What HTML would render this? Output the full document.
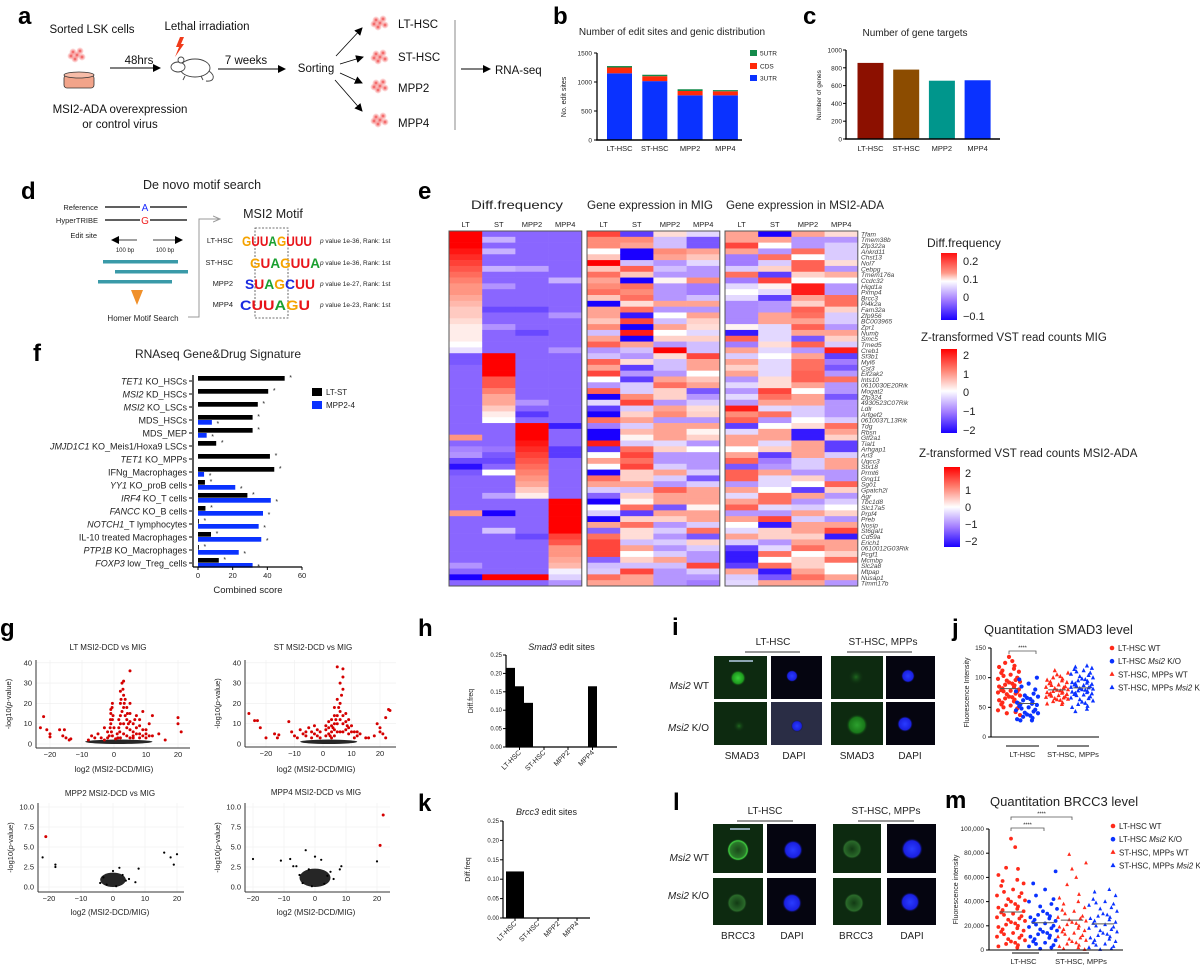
<!DOCTYPE html>
<html><head><meta charset="utf-8">
<style>
html,body{margin:0;padding:0;background:#fff;}
svg{display:block;font-family:"Liberation Sans",Arial,sans-serif;}
</style></head>
<body>
<svg id="fig" xmlns="http://www.w3.org/2000/svg" width="1200" height="967" viewBox="0 0 1200 967">
<defs>
<marker id="ah" markerWidth="8" markerHeight="8" refX="7" refY="4" orient="auto" markerUnits="userSpaceOnUse"><path d="M0,0 L8,4 L0,8 z" fill="#000"/></marker>
<marker id="ahg" markerWidth="8" markerHeight="8" refX="7" refY="4" orient="auto" markerUnits="userSpaceOnUse"><path d="M0,1 L7,4 L0,7" fill="none" stroke="#999"/></marker>
<radialGradient id="gGreen"><stop offset="0" stop-color="#3ad23a"/><stop offset="0.7" stop-color="#1e9a1e"/><stop offset="1" stop-color="#0d2a10" stop-opacity="0"/></radialGradient>
<radialGradient id="gGreenF"><stop offset="0" stop-color="#1f6a1f"/><stop offset="1" stop-color="#0d2a10" stop-opacity="0"/></radialGradient>
<radialGradient id="gRing"><stop offset="0" stop-color="#1a4a1a"/><stop offset="0.7" stop-color="#2a7a2a"/><stop offset="0.85" stop-color="#40d040"/><stop offset="1" stop-color="#0d2a10" stop-opacity="0"/></radialGradient>
<radialGradient id="gRingF"><stop offset="0" stop-color="#123a14"/><stop offset="0.8" stop-color="#2a6a2a"/><stop offset="1" stop-color="#0d2a10" stop-opacity="0"/></radialGradient>
<radialGradient id="gBlue"><stop offset="0" stop-color="#2a3cff"/><stop offset="0.75" stop-color="#1a20e0"/><stop offset="1" stop-color="#050510" stop-opacity="0"/></radialGradient>
<radialGradient id="gCell"><stop offset="0" stop-color="#f03c3c"/><stop offset="1" stop-color="#f8a0a0" stop-opacity="0.2"/></radialGradient>
<linearGradient id="cbDiff" x1="0" y1="0" x2="0" y2="1"><stop offset="0" stop-color="#ff1010"/><stop offset="0.3" stop-color="#ff9a8a"/><stop offset="0.42" stop-color="#ffffff"/><stop offset="0.7" stop-color="#a27cff"/><stop offset="1" stop-color="#1a00ff"/></linearGradient>
<linearGradient id="cbZ" x1="0" y1="0" x2="0" y2="1"><stop offset="0" stop-color="#ff0000"/><stop offset="0.25" stop-color="#ff8070"/><stop offset="0.5" stop-color="#ffffff"/><stop offset="0.75" stop-color="#a27cff"/><stop offset="1" stop-color="#1a00ff"/></linearGradient>
</defs>

<g font-weight="bold" font-size="24" fill="#000">
<text x="18" y="24">a</text>
<text x="553" y="24">b</text>
<text x="803" y="24">c</text>
<text x="21" y="199">d</text>
<text x="418" y="199">e</text>
<text x="33" y="361">f</text>
<text x="0" y="636">g</text>
<text x="418" y="636">h</text>
<text x="672" y="635">i</text>
<text x="952" y="636">j</text>
<text x="418" y="811">k</text>
<text x="673" y="810">l</text>
<text x="945" y="808">m</text>
</g>

<g id="pa" font-size="11.5" fill="#111">
<text x="92" y="33" text-anchor="middle">Sorted LSK cells</text>
<rect x="64" y="75" width="30" height="13" rx="3" fill="#f2a48a" stroke="#333" stroke-width="0.8"/>
<ellipse cx="79" cy="75" rx="15" ry="3" fill="#f7bca8" stroke="#333" stroke-width="0.8"/>
<text x="120" y="113" text-anchor="middle">MSI2-ADA overexpression</text>
<text x="120" y="128" text-anchor="middle">or control virus</text>
<line x1="110" y1="68" x2="160" y2="68" stroke="#000" marker-end="url(#ah)"/>
<text x="139" y="64" text-anchor="middle">48hrs</text>
<text x="207" y="30" text-anchor="middle">Lethal irradiation</text>
<polygon points="180,37 176,47 179,47 175,57 184,44 181,44 184,37" fill="#f03a1a"/>
<g fill="#fff" stroke="#444" stroke-width="0.9">
<ellipse cx="195" cy="68" rx="15" ry="9"/>
<ellipse cx="178" cy="67" rx="7" ry="5"/>
<circle cx="181" cy="60" r="3"/>
<path d="M209,71 C216,76 214,82 206,81" fill="none"/>
<line x1="185" y1="76" x2="183" y2="80"/><line x1="201" y1="76" x2="203" y2="80"/>
</g>
<line x1="218" y1="69" x2="285" y2="69" stroke="#000" marker-end="url(#ah)"/>
<text x="246" y="64" text-anchor="middle">7 weeks</text>
<text x="316" y="72" text-anchor="middle">Sorting</text>
<line x1="336" y1="56" x2="362" y2="28" stroke="#000" stroke-width="0.8" marker-end="url(#ah)"/>
<line x1="340" y1="64" x2="363" y2="57" stroke="#000" stroke-width="0.8" marker-end="url(#ah)"/>
<line x1="340" y1="73" x2="362" y2="83" stroke="#000" stroke-width="0.8" marker-end="url(#ah)"/>
<line x1="335" y1="80" x2="362" y2="111" stroke="#000" stroke-width="0.8" marker-end="url(#ah)"/>
<text x="398" y="28">LT-HSC</text>
<text x="398" y="61">ST-HSC</text>
<text x="398" y="92">MPP2</text>
<text x="398" y="127">MPP4</text>
<line x1="455" y1="20" x2="455" y2="130" stroke="#888"/>
<line x1="461" y1="69" x2="490" y2="69" stroke="#000" marker-end="url(#ah)"/>
<text x="495" y="74">RNA-seq</text>
</g>

<g id="pd" fill="#222">
<text x="202" y="189" text-anchor="middle" font-size="12.5">De novo motif search</text>
<text x="98" y="210" text-anchor="end" font-size="7.5">Reference</text>
<line x1="105" y1="207" x2="140" y2="207" stroke="#000" stroke-width="1.2"/>
<line x1="150" y1="207" x2="187" y2="207" stroke="#000" stroke-width="1.2"/>
<text x="145" y="211" text-anchor="middle" font-size="10" fill="#1a2aff">A</text>
<text x="98" y="223" text-anchor="end" font-size="7.5">HyperTRIBE</text>
<line x1="105" y1="220" x2="140" y2="220" stroke="#000" stroke-width="1.2"/>
<line x1="150" y1="220" x2="187" y2="220" stroke="#000" stroke-width="1.2"/>
<text x="145" y="224" text-anchor="middle" font-size="10" fill="#f02020">G</text>
<text x="97" y="238" text-anchor="end" font-size="7.5">Edit site</text>
<line x1="137" y1="240" x2="112" y2="240" stroke="#000" stroke-width="0.8" marker-end="url(#ah)"/>
<line x1="153" y1="240" x2="182" y2="240" stroke="#000" stroke-width="0.8" marker-end="url(#ah)"/>
<text x="125" y="252" text-anchor="middle" font-size="6">100 bp</text>
<text x="165" y="252" text-anchor="middle" font-size="6">100 bp</text>
<rect x="103" y="260" width="75" height="3.5" fill="#3a9aa8"/>
<rect x="115" y="270" width="73" height="3.5" fill="#3a9aa8"/>
<rect x="98" y="280" width="74" height="3.5" fill="#3a9aa8"/>
<polygon points="131,290 143,290 137,305" fill="#f0902a"/>
<text x="143" y="321" text-anchor="middle" font-size="8">Homer Motif Search</text>
<polyline points="188,317 199,317 199,219 220,219" fill="none" stroke="#999" marker-end="url(#ahg)"/>
<text x="273" y="218" text-anchor="middle" font-size="12.5">MSI2 Motif</text>
<rect x="255" y="228" width="33" height="90" fill="none" stroke="#444" stroke-dasharray="2,1.5" stroke-width="0.8"/>
<text x="233" y="243" text-anchor="end" font-size="7.5">LT-HSC</text>
<text x="233" y="265" text-anchor="end" font-size="7.5">ST-HSC</text>
<text x="233" y="286" text-anchor="end" font-size="7.5">MPP2</text>
<text x="233" y="307" text-anchor="end" font-size="7.5">MPP4</text>
<g font-size="6.5">
<text x="320" y="243"><tspan font-style="italic">p</tspan> value 1e-36, Rank: 1st</text>
<text x="320" y="265"><tspan font-style="italic">p</tspan> value 1e-36, Rank: 1st</text>
<text x="320" y="286"><tspan font-style="italic">p</tspan> value 1e-27, Rank: 1st</text>
<text x="320" y="307"><tspan font-style="italic">p</tspan> value 1e-23, Rank: 1st</text>
</g>
</g>

<g>
<text x="218" y="358" text-anchor="middle" font-size="12" fill="#222">RNAseq Gene&amp;Drug Signature</text>
<text x="248" y="593" text-anchor="middle" font-size="9.5" fill="#222">Combined score</text>
<rect x="312" y="388" width="10" height="8" fill="#000"/>
<text x="326" y="395" font-size="8" fill="#222">LT-ST</text>
<rect x="312" y="401" width="10" height="8" fill="#0a32ff"/>
<text x="326" y="408" font-size="8" fill="#222">MPP2-4</text>
</g>

<g fill="#222">
<text x="927" y="247" font-size="12">Diff.frequency</text>
<rect x="941" y="253" width="16" height="67" fill="url(#cbDiff)"/>
<text x="963" y="265" font-size="11">0.2</text>
<text x="963" y="283" font-size="11">0.1</text>
<text x="963" y="301" font-size="11">0</text>
<text x="963" y="320" font-size="11">−0.1</text>
<text x="921" y="341" font-size="11.5">Z-transformed VST read counts MIG</text>
<rect x="941" y="349" width="16" height="84" fill="url(#cbZ)"/>
<text x="963" y="359" font-size="11">2</text>
<text x="963" y="378" font-size="11">1</text>
<text x="963" y="396" font-size="11">0</text>
<text x="963" y="415" font-size="11">−1</text>
<text x="963" y="434" font-size="11">−2</text>
<text x="919" y="457" font-size="11.5">Z-transformed VST read counts MSI2-ADA</text>
<rect x="944" y="467" width="16" height="80" fill="url(#cbZ)"/>
<text x="965" y="477" font-size="11">2</text>
<text x="965" y="494" font-size="11">1</text>
<text x="965" y="511" font-size="11">0</text>
<text x="965" y="528" font-size="11">−1</text>
<text x="965" y="545" font-size="11">−2</text>
</g>

<g>
<text x="773" y="645" text-anchor="middle" font-size="10" fill="#222">LT-HSC</text>
<line x1="745" y1="652" x2="800" y2="652" stroke="#333"/>
<text x="883" y="645" text-anchor="middle" font-size="10" fill="#222">ST-HSC, MPPs</text>
<line x1="847" y1="652" x2="912" y2="652" stroke="#333"/>
<text x="709" y="689" text-anchor="end" font-size="10" fill="#222"><tspan font-style="italic">Msi2</tspan> WT</text>
<text x="709" y="731" text-anchor="end" font-size="10" fill="#222"><tspan font-style="italic">Msi2</tspan> K/O</text>
<rect x="714" y="656" width="53" height="43" fill="#0d2a10"/>
<circle cx="738" cy="678" r="8" fill="url(#gGreen)"/>
<line x1="729" y1="661" x2="753" y2="661" stroke="#b8d0e8" stroke-width="1.5"/>
<rect x="771" y="656" width="51" height="43" fill="#050510"/>
<circle cx="792" cy="676" r="6" fill="url(#gBlue)"/>
<rect x="714" y="702" width="53" height="43" fill="#0d2a10"/>
<circle cx="739" cy="726" r="6" fill="url(#gGreenF)"/>
<rect x="771" y="702" width="51" height="43" fill="#2a2d45"/>
<circle cx="797" cy="726" r="6" fill="url(#gBlue)"/>
<rect x="831" y="656" width="52" height="43" fill="#0d2a10"/>
<circle cx="856" cy="677" r="8" fill="url(#gGreenF)"/>
<rect x="886" y="656" width="49" height="43" fill="#050510"/>
<circle cx="908" cy="676" r="7" fill="url(#gBlue)"/>
<rect x="831" y="702" width="52" height="43" fill="#0d2a10"/>
<circle cx="857" cy="725" r="11" fill="url(#gGreen)" opacity="0.7"/>
<rect x="886" y="702" width="49" height="43" fill="#050510"/>
<circle cx="905" cy="724" r="8" fill="url(#gBlue)"/>
<text x="742" y="759" text-anchor="middle" font-size="10" fill="#222">SMAD3</text>
<text x="794" y="759" text-anchor="middle" font-size="10" fill="#222">DAPI</text>
<text x="857" y="759" text-anchor="middle" font-size="10" fill="#222">SMAD3</text>
<text x="910" y="759" text-anchor="middle" font-size="10" fill="#222">DAPI</text>
</g>
<g>
<text x="765" y="814" text-anchor="middle" font-size="10" fill="#222">LT-HSC</text>
<line x1="737" y1="821" x2="793" y2="821" stroke="#333"/>
<text x="886" y="814" text-anchor="middle" font-size="10" fill="#222">ST-HSC, MPPs</text>
<line x1="858" y1="821" x2="914" y2="821" stroke="#333"/>
<text x="709" y="861" text-anchor="end" font-size="10" fill="#222"><tspan font-style="italic">Msi2</tspan> WT</text>
<text x="709" y="899" text-anchor="end" font-size="10" fill="#222"><tspan font-style="italic">Msi2</tspan> K/O</text>
<rect x="713" y="824" width="50" height="49" fill="#0d2a10"/>
<circle cx="738" cy="850" r="11" fill="url(#gRing)"/>
<line x1="730" y1="829" x2="750" y2="829" stroke="#b8d0e8" stroke-width="1.5"/>
<rect x="767" y="824" width="49" height="49" fill="#050510"/>
<circle cx="793" cy="850" r="10" fill="url(#gBlue)"/>
<rect x="713" y="878" width="50" height="47" fill="#0d2a10"/>
<circle cx="737" cy="903" r="10" fill="url(#gRingF)"/>
<rect x="767" y="878" width="49" height="47" fill="#050510"/>
<circle cx="792" cy="903" r="10" fill="url(#gBlue)"/>
<rect x="833" y="824" width="48" height="49" fill="#0d2a10"/>
<circle cx="852" cy="849" r="10" fill="url(#gRingF)"/>
<rect x="887" y="824" width="49" height="49" fill="#050510"/>
<circle cx="912" cy="849" r="11" fill="url(#gBlue)"/>
<rect x="833" y="878" width="48" height="47" fill="#0d2a10"/>
<circle cx="854" cy="903" r="10" fill="url(#gRingF)"/>
<rect x="887" y="878" width="49" height="47" fill="#050510"/>
<circle cx="910" cy="902" r="10" fill="url(#gBlue)"/>
<text x="738" y="939" text-anchor="middle" font-size="10" fill="#222">BRCC3</text>
<text x="792" y="939" text-anchor="middle" font-size="10" fill="#222">DAPI</text>
<text x="856" y="939" text-anchor="middle" font-size="10" fill="#222">BRCC3</text>
<text x="912" y="939" text-anchor="middle" font-size="10" fill="#222">DAPI</text>
</g>
</svg>

<script>
// ---------------- DATA ----------------
const bCats = ['LT-HSC','ST-HSC','MPP2','MPP4'];
const b3UTR = [1150,1015,770,770];
const bCDS  = [100,85,75,70];
const b5UTR = [25,25,30,20];
const bTicks = [0,500,1000,1500];

const cCats = ['LT-HSC','ST-HSC','MPP2','MPP4'];
const cGenes = [855,780,655,660];
const cTicks = [0,200,400,600,800,1000];

const fLabels = [['TET1',' KO_HSCs'],['MSI2',' KD_HSCs'],['MSI2',' KO_LSCs'],['','MDS_HSCs'],['','MDS_MEP'],['JMJD1C1',' KO_Meis1/Hoxa9 LSCs'],['TET1',' KO_MPPs'],['','IFNg_Macrophages'],['YY1',' KO_proB cells'],['IRF4',' KO_T cells'],['FANCC',' KO_B cells'],['NOTCH1','_T lymphocytes'],['','IL-10 treated Macrophages'],['PTP1B',' KO_Macrophages'],['FOXP3',' low_Treg_cells']];
const fLTST  = [50,40.5,34.5,31.5,31.5,10.5,41.5,44,4,28.5,4.3,0.5,7.5,0.5,12];
const fMPP24 = [0,0,0,8,5,0,0,3.5,21.5,42,37.5,35,36.5,23.5,31.5];
const fTicks = [0,20,40,60];

const heatCols = ['LT','ST','MPP2','MPP4'];
const genes = ['Tfam','Tmem38b','Zfp322a','Ankrd11','Chst13','Nol7','Cebpg','Tmem176a','Ccdc32','Higd1a','Pxmp4','Brcc3','Pi4k2a','Fam32a','Zfp956','BC003965','Zpr1','Numb','Smc5','Tmed5','Creb1','Sf3b1','Myl6','Cst3','Eif2ak2','Ints10','0610030E20Rik','Mogat2','Zfp324','4930523C07Rik','Ldlr','Arfgef2','0610037L13Rik','Tdg','Rbsn','Gtf2a1','Tial1','Arhgap1','Arl3','Uqcc3','Stx18','Prmt6','Gng11','Sgo1','Gpatch2l','Agr','Tbc1d8','Slc17a5','Prpf4','Preb','Nosip','St6gal1','Cd59a','Erich1','0610012G03Rik','Pcgf1','Mcmbp','Slc2a8','Mtpap','Nusap1','Timm17b'];
const diffLT = [0.2,0.2,0.2,0.19,0.18,0.17,0.16,0.15,0.14,0.13,0.13,0.12,0.11,0.1,0.1,0.09,0.08,0.08,0.08,0.07,0.05,-0.04,-0.04,-0.03,-0.03,-0.03,-0.03,-0.03,-0.03,-0.03,-0.03,-0.03,-0.03,-0.03,-0.03,0.13,-0.03,-0.01,0,-0.05,-0.09,-0.04,-0.03,-0.03,-0.03,-0.03,-0.03,-0.03,0.13,-0.03,-0.03,-0.03,-0.03,-0.03,-0.03,-0.03,-0.03,0,-0.03,-0.1,-0.03];
const diffST = [-0.03,0.02,-0.03,0.02,-0.03,-0.03,0.02,-0.03,-0.03,0,-0.03,-0.03,-0.03,-0.05,-0.03,-0.03,0,-0.03,-0.03,-0.03,-0.03,0.2,0.2,0.2,0.2,0.16,0.16,0.14,0.12,0.12,0.1,0.08,0.07,-0.03,-0.03,-0.03,-0.03,-0.02,-0.04,-0.05,-0.03,0.07,-0.03,-0.03,-0.03,0.01,-0.03,-0.03,-0.1,-0.03,-0.03,0.03,-0.03,-0.03,-0.03,-0.03,-0.03,-0.03,-0.03,0.2,-0.03];
const diffMPP2 = [-0.03,-0.03,-0.03,-0.03,-0.03,-0.03,0.01,-0.03,-0.03,-0.03,-0.03,-0.03,-0.03,-0.05,-0.03,-0.03,-0.03,-0.05,-0.03,-0.03,-0.03,-0.03,-0.03,-0.03,-0.03,-0.03,-0.03,-0.03,-0.03,0,-0.03,-0.06,-0.03,0.2,0.2,0.2,0.19,0.18,0.17,0.16,0.15,0.14,0.13,0.12,0.1,0.08,-0.03,-0.03,-0.03,-0.03,-0.03,-0.03,-0.05,-0.03,-0.03,-0.03,-0.03,-0.03,-0.03,0.2,-0.03];
const diffMPP4 = [-0.03,-0.03,-0.03,-0.03,-0.03,-0.03,-0.03,-0.03,0.02,-0.03,-0.03,-0.03,-0.03,-0.03,0,-0.03,-0.03,-0.03,-0.03,-0.03,0,-0.03,-0.03,-0.03,-0.03,-0.03,-0.03,-0.03,-0.03,-0.03,-0.03,-0.03,-0.03,-0.08,-0.03,-0.03,-0.03,-0.06,-0.06,-0.03,-0.03,-0.03,-0.03,-0.03,-0.03,-0.03,0.2,0.2,0.2,0.2,0.2,0.2,0.17,0.16,0.13,0.13,0.12,0.11,0.06,0.04,0];
const migRows = [[1.5,-1.5,0.3,-0.3],[1,1,-0.5,-1.3],[1,0.8,-0.5,-1.3],[0,-2,1,0.8],[0.5,-2,0.8,0.5],[2,-0.5,-0.8,-0.3],[0.5,1.3,-0.5,-0.8],[1.2,0.5,-0.8,-0.8],[0.8,-2,0.1,1],[1,1.2,-0.8,-1],[1.2,1,-0.8,-1],[0.5,1.2,-0.8,-0.5],[-2,0.3,0.8,0.8],[0.8,1.2,-0.8,-0.8],[0.8,-1.8,0,0.8],[0.5,1.5,-0.5,0.4],[1,-2,0.8,0.3],[-0.5,1.8,0,-0.3],[0.8,-2,0.4,0.4],[1.3,0.8,-0.8,-0.5],[-0.8,-0.5,2,-0.5],[-0.5,-0.8,0.3,1.5],[1.3,0.3,-0.5,0.8],[0.8,-1.5,-0.5,0.8],[1.5,-0.8,-0.8,0],[0,-1.5,0.8,0.5],[-0.8,-0.4,1.2,0.8],[1.3,-0.4,0.4,-1.3],[-2,1,0.4,-0.8],[-0.3,1.5,-0.8,-0.4],[-1.5,-0.4,0.8,0.3],[-2,0.4,1,0.4],[1.2,0.8,-0.8,-0.8],[-1,-0.4,0.8,0.8],[-2,0.6,0.8,0.1],[-2,0.1,0.8,0.4],[1.8,-0.4,-0.3,-0.8],[-1.5,1.2,0.4,0],[0,1.5,-0.8,-0.8],[0.8,1.2,-0.8,-0.8],[0,1.5,-0.4,-0.8],[-2,0.4,0.8,-0.4],[1.2,0.4,-0.4,-1.3],[0.8,0.8,-0.8,-0.4],[-0.4,-0.5,1.3,0.8],[-1.2,0.4,0.8,0.8],[-2,0.1,0.8,0.8],[0,1.2,-1.3,0.1],[-0.4,-1.5,0.8,0.8],[-2,0.4,0.4,0.8],[0.8,1.2,-0.8,-0.4],[-1.2,0.3,-0.4,1.2],[1.2,0.3,-0.8,-1.3],[1.5,-0.5,-0.4,0.4],[1.5,0.8,-0.8,-0.4],[1.5,0,-0.4,-0.8],[-1.2,0.4,0.8,-0.8],[-0.5,-0.5,-0.5,1.5],[-0.4,1.5,-0.8,-0.4],[1.2,0.8,-0.8,-0.8],[0.8,0.8,-0.8,-1]];
const adaRows = [[0.8,-2,0.8,0.3],[0.8,0.8,-0.8,-0.8],[1.5,0,-0.8,-0.4],[0.8,-0.8,1.2,-0.4],[-1,1.2,0,-0.4],[-1,-0.4,1.3,0.3],[-0.4,0.4,1.3,-0.8],[1.2,-1.5,0.4,0.7],[-1,1.5,0,0],[-0.3,0.1,1.8,-0.8],[0,-0.3,1.8,-0.8],[-0.3,-1.5,0.8,1.2],[-0.9,-0.8,0.4,1.2],[-0.9,-0.8,1.3,0.4],[-0.9,0.8,1.2,-0.4],[-0.9,0.8,0.8,-0.4],[0.1,-0.3,1.3,-0.8],[-1.8,-0.3,0.8,0.8],[1.3,-0.3,-1.3,0.4],[-1,0.3,1.3,-0.4],[0.8,-0.3,-0.8,1.8],[-0.4,0,0.8,-1.5],[0.8,-0.3,1.2,-1],[0.4,-0.3,1.2,-1.3],[0.8,-0.3,1.3,-0.8],[-0.8,0.3,1.3,1.2],[-0.3,0.3,0.8,-0.8],[-0.8,1.5,0,-0.8],[-0.3,1.2,0.8,-1.3],[-0.8,0.8,0.8,-0.8],[1.8,-0.3,-0.4,-0.8],[1,1.2,-0.4,-0.8],[1.3,-0.8,0,-0.4],[-1.5,0,0.3,1.2],[-0.3,0.8,-1.8,0.8],[0.8,0.8,-1.8,0.4],[0.8,-0.3,0.8,-1.5],[0,0.4,0.8,-1.5],[0.8,-1.5,0.8,-0.4],[1.3,-1,-0.4,0.8],[-1.3,-0.8,-0.4,0.8],[1.3,0.8,-0.8,-0.8],[1.3,-0.3,0.4,-0.8],[-0.8,-0.3,0,1.3],[0.8,0,-1.5,0.4],[-0.3,1.2,0.8,-0.8],[0.8,1.2,-0.8,-0.4],[1.3,-0.3,-0.4,0],[-0.8,-0.8,0.8,0.4],[0.8,1.5,-0.4,-0.8],[0,-1.8,0.8,0.8],[-0.3,0.4,0.8,1.5],[0.8,0.4,0.4,-1.8],[-0.4,-0.8,0.8,0.8],[-1.5,-0.3,1.2,0.8],[-1.8,1.2,0,0.4],[-1.8,0,0.4,1.2],[-1.5,1.2,0.4,0],[0.8,-1.8,0.8,0],[-0.4,-1.3,1.2,0.8],[-0.3,0.8,0.8,-0.8]];

const ltRed = [[-23,8],[-22,13.5],[-21,7],[-20,5],[-20,3.5],[-17,7],[-16,4],[-15.5,7],[-15,3],[-14,2],[-13.5,2.5],[-8,2],[-7,4],[-6,3],[-5,5],[-4,3],[-3,8],[-2,6],[-1,10],[-1,15],[-0.5,20],[-0.5,12],[0,8],[-1.5,4],[1,5],[1.5,8],[2,14],[2,26],[2.5,30],[3,31],[3,18],[3.5,22],[4,12],[4,8],[5,36],[5,20],[5,15],[6,10],[6,6],[7,14],[8,9],[8,5],[9,16],[9,4],[10,7],[10,3],[11,10],[12,4],[12,14],[14,5],[16,2],[20,13],[20,10],[21,6],[2,3],[3,5],[4,4],[5,3],[6,3],[-1,17],[-0.8,6],[-0.3,14],[-1.2,8],[1.5,12],[2,20],[2.5,16],[3,10],[3.5,14],[4,18],[4.5,10],[5,7],[7,8],[6.5,12],[8,12],[3,24],[2,10],[1.8,6],[-2,3],[-3,2],[5,11],[6,4],[7,5],[8,3],[9,7],[10,5],[11,4],[-0.6,18],[-1.1,12],[2.2,22],[2.8,27],[3.2,20],[4.2,15],[1.2,3],[0.5,2.5],[-0.5,4]];
const stRed = [[-26,15],[-24,11.5],[-23,11.5],[-22,8],[-20,3],[-17,5],[-16,3],[-15.5,4.5],[-12,11],[-11,6],[-10,4],[-9,3],[-8,7],[-7,5],[-6,4],[-5,8],[-4,6],[-3,9],[-2,4],[-1,3],[1,4],[2,8],[3,12],[3,6],[4,18],[4,10],[5,38],[5,22],[5,14],[6,30],[6,20],[6,12],[7,37],[7,27],[7,33],[7,10],[8,15],[8,7],[9,12],[9,5],[10,9],[11,6],[12,4],[13,5],[15,3],[16,3],[18,4],[19,10],[20,8],[21,5],[22,3],[22,13],[23,17],[23.5,16.5],[20,6],[1,7],[2,5],[4,4],[6,6],[3,9],[4,14],[5,10],[5,6],[6,16],[7,14],[7,6],[8,11],[9,8],[10,6],[4,7],[2,11],[1,9],[3,3],[-1,6],[-2,7],[-3,5],[-4,3],[-6,6],[11,3],[12,6],[5.5,18],[6.5,24],[4.5,12],[3.5,8],[8.5,9],[2.5,4]];
const ltCloud = [-9,12,2.2];
const stCloud = [-8,12,2.2];
const mpp2Red = [[-21,6.3]];
const mpp2Black = [[-22,3.7],[-18,2.8],[-18,2.5],[16,4.3],[18,3.7],[19,2.8],[20,4.1],[8,2.3],[2,2.4],[-4,0.5],[7,0.6],[4,0.8],[-3,1.2],[3,1.5],[0,2.0],[-2,0.3],[1,0.1],[5,1.0]];
const mpp2Cloud = [-4,4,1.8];
const mpp4Red = [[21,5.2],[22,9]];
const mpp4Black = [[-20,3.5],[-11,3.3],[-8,3.5],[-7,2.6],[-6,2.6],[-3,4.6],[-2,2.2],[0,3.8],[2,3.4],[5,1.9],[8,2.2],[8.5,2.6],[6,1.0],[4,1.4],[-4,0.5],[20,3.2],[-5,1.5],[3,0.4],[-1,0.1]];
const mpp4Cloud = [-5,5,2.3];

const hCats = ['LT-HSC','ST-HSC','MPP2','MPP4'];
const hSites = [[0.215,0.165,0.12],[],[],[0.165]];
const kCats = ['LT-HSC','ST-HSC','MPP2','MPP4'];
const kSites = [[0.12],[],[],[]];
const diffTicks = [0,0.05,0.1,0.15,0.2,0.25];

const jLtWt = [135,128,125,120,118,115,112,110,108,105,103,100,98,96,95,93,92,90,88,87,85,84,82,80,79,78,77,76,75,73,72,70,68,67,65,63,62,60,58,56,55,53,50,48,45,42,40,37];
const jLtKo = [100,97,90,85,80,77,73,70,68,66,64,62,60,58,56,55,54,52,50,48,46,45,43,41,40,38,36,34,32,30,28,28];
const jStWt = [112,108,105,102,100,98,96,95,93,92,90,88,87,85,84,83,82,80,79,78,77,76,75,74,73,72,71,70,69,68,67,66,65,64,63,62,60,58,56,55];
const jStKo = [120,118,116,114,112,110,108,106,104,102,100,98,97,95,94,92,91,90,89,88,87,86,85,84,83,82,81,80,79,78,77,76,75,74,73,72,71,70,68,66,65,63,61,59,57,55,52,50,47,43];
const jTicks = [0,50,100,150];
const mLtWt = [92,85,68,67,62,58,57,55,53,50,48,47,45,44,42,41,40,38,37,36,35,34,33,32,31,30,29,28,27,26,25,24,23,22,21,20,19,18,17,16,15,14,13,12,11,10,9,8,7,6,5,4,3,2];
const mLtKo = [65,55,50,45,42,40,38,36,34,32,30,29,28,27,26,25,24,23,22,21,20,19,18,17,16,15,14,13,12,11,10,9,8,7,6,5,4,3,2,1];
const mStWt = [79,72,67,60,54,46,43,40,38,35,33,32,30,28,27,26,25,24,23,22,21,20,19,18,17,16,15,14,13,12,11,10,9,8,7,6,5,4,3,2,1,0.5];
const mStKo = [50,48,45,42,40,39,38,37,35,34,32,30,29,28,27,26,25,24,23,22,21,20,19,18,17,16,15,14,13,12,11,10,9,8,7,6,5,4,3,2,1,0.5];
const mTicks = [0,20,40,60,80,100];

// ---------------- HELPERS ----------------
const NS = 'http://www.w3.org/2000/svg';
const svg = document.getElementById('fig');
function mk(tag, attrs, parent){ const e=document.createElementNS(NS,tag); for(const k in attrs) e.setAttribute(k,attrs[k]); (parent||svg).appendChild(e); return e; }
function txt(x,y,s,size,anchor,parent,extra){ const t=mk('text',Object.assign({x:x,y:y,'font-size':size,'text-anchor':anchor||'start',fill:'#222'},extra||{}),parent); t.textContent=s; return t; }
function lerp(a,b,t){return Math.round(a+(b-a)*t);}
function mix(c1,c2,t){return 'rgb('+lerp(c1[0],c2[0],t)+','+lerp(c1[1],c2[1],t)+','+lerp(c1[2],c2[2],t)+')';}
const W=[255,255,255], RM=[255,140,120], R=[255,0,0], BM=[162,124,255], B=[26,0,255];
function divColor(t){
  t=Math.max(-1,Math.min(1,t));
  if(t>=0) return t<0.5?mix(W,RM,t*2):mix(RM,R,(t-0.5)*2);
  t=-t; return t<0.5?mix(W,BM,t*2):mix(BM,B,(t-0.5)*2);
}
function diffColor(v){ return v>=0.07 ? divColor((v-0.07)/0.13) : divColor(-(0.07-v)/0.17); }
function zColor(v){ return divColor(v/2); }

// ---------------- PANEL B ----------------
const gB = mk('g',{});


const yB = v => 140 - v/1500*87;
const xB = i => 619.5 + 35.3*i;
const tB = txt(672,35,'Number of edit sites and genic distribution',10,'middle',gB);


bCats.forEach((c,i)=>{
  const u3=mk('rect',{x:xB(i)-12.5,y:yB(b3UTR[i]),width:25,height:yB(0)-yB(b3UTR[i]),fill:'#0a32ff'},gB);
  
  
  const cd=mk('rect',{x:xB(i)-12.5,y:yB(b3UTR[i]+bCDS[i]),width:25,height:yB(b3UTR[i])-yB(b3UTR[i]+bCDS[i]),fill:'#ff2a0a'},gB);
  
  
  const u5=mk('rect',{x:xB(i)-12.5,y:yB(b3UTR[i]+bCDS[i]+b5UTR[i]),width:25,height:yB(b3UTR[i]+bCDS[i])-yB(b3UTR[i]+bCDS[i]+b5UTR[i]),fill:'#138a4a'},gB);
  
  
  const l=txt(xB(i),151,c,7.5,'middle',gB);
  
  
});
bTicks.forEach(v=>{
  const t=txt(592,yB(v)+2.5,String(v),6.5,'end',gB);
  
  
  mk('line',{x1:594,x2:597,y1:yB(v),y2:yB(v),stroke:'#000'},gB);
});
mk('line',{x1:597,x2:597,y1:yB(1500),y2:140,stroke:'#000','stroke-width':1.3},gB);
mk('line',{x1:596,x2:742,y1:140,y2:140,stroke:'#000','stroke-width':1.6},gB);
const ylb=txt(0,0,'No. edit sites',7,'middle',gB,{transform:'translate(566,97) rotate(-90)'});


[['5UTR','#138a4a',50],['CDS','#ff2a0a',63],['3UTR','#0a32ff',75]].forEach(l=>{
  const s=mk('rect',{x:750,y:l[2],width:7,height:6,fill:l[1]},gB);
  
  
  const t=txt(760,l[2]+5.5,l[0],6.5,'start',gB);
  
  
});

// ---------------- PANEL C ----------------
const gC = mk('g',{});


const yC = v => 139 - v/1000*89;
const xC = i => 870.5 + 35.7*i;
const cColors = ['#8c1000','#8c4c00','#00968c','#0a32ff'];
const tC=txt(915,36,'Number of gene targets',10,'middle',gC);


cCats.forEach((c,i)=>{
  const r=mk('rect',{x:xC(i)-13,y:yC(cGenes[i]),width:26,height:yC(0)-yC(cGenes[i]),fill:cColors[i]},gC);
  
  
  const l=txt(xC(i),151,c,7.5,'middle',gC);
  
  
});
cTicks.forEach(v=>{
  const t=txt(842,yC(v)+2.5,String(v),6.5,'end',gC);
  
  
  mk('line',{x1:843,x2:846,y1:yC(v),y2:yC(v),stroke:'#000'},gC);
});
mk('line',{x1:846,x2:846,y1:yC(1000),y2:139,stroke:'#000','stroke-width':1.3},gC);
mk('line',{x1:845,x2:1000,y1:139,y2:139,stroke:'#000','stroke-width':1.6},gC);
const ylc=txt(0,0,'Number of genes',6.5,'middle',gC,{transform:'translate(821,95) rotate(-90)'});



// ---------------- PANEL D motif logos ----------------
const gD = mk('g',{});


const logoCol = {U:'#e8141a',A:'#19a030',G:'#f5a300',C:'#1a2ae0'};
const logos = [['GUUAGUUU',243,242],['GUAGUUA',265,250],['SUAGCUU',286,245],['CUUAGU',307,240]];
logos.forEach(lg=>{
  const t=mk('text',{x:lg[2],y:lg[1]+3,'font-size':14,'font-weight':'bold','textLength':70,'lengthAdjust':'spacingAndGlyphs'},gD);
  
  
  for(const ch of lg[0]){ const s=mk('tspan',{fill:logoCol[ch]||'#1a2ae0'},t); s.textContent=ch; }
});

// ---------------- PANEL F ----------------
const gF = mk('g',{});


const xF = v => 198 + v/60*104;
const yF = i => 381 + 13*i;
fLabels.forEach((lab,i)=>{
  const t=mk('text',{x:187,y:yF(i)+3.3,'font-size':9,'text-anchor':'end',fill:'#222'},gF);
  
  
  if(lab[0]){ const a=mk('tspan',{'font-style':'italic'},t); a.textContent=lab[0]; }
  const b=mk('tspan',{},t); b.textContent=lab[1];
  mk('line',{x1:189,x2:192,y1:yF(i),y2:yF(i),stroke:'#000'},gF);
  const bk=mk('rect',{x:xF(0),y:yF(i)-5,width:xF(fLTST[i])-xF(0),height:4.7,fill:'#000'},gF);
  
  
  if(fLTST[i]>0){ const s=txt(xF(fLTST[i])+6,yF(i)-1,'*',7,'middle',gF);   }
  const bl=mk('rect',{x:xF(0),y:yF(i),width:xF(fMPP24[i])-xF(0),height:4.7,fill:'#0a32ff'},gF);
  
  
  if(fMPP24[i]>0){ const s=txt(xF(fMPP24[i])+6,yF(i)+6,'*',7,'middle',gF);   }
});
mk('line',{x1:193,x2:193,y1:375,y2:567,stroke:'#000','stroke-width':1.3},gF);
mk('line',{x1:193,x2:302,y1:567,y2:567,stroke:'#000','stroke-width':1.3},gF);
fTicks.forEach(v=>{
  mk('line',{x1:xF(v),x2:xF(v),y1:567,y2:570,stroke:'#000'},gF);
  const t=txt(xF(v),578,String(v),7.5,'middle',gF);
  
  
});

// ---------------- PANEL E heatmaps ----------------
const gE = mk('g',{});


const hmTop=231, hmH=355, rowH=hmH/genes.length;
const blocks = [
  {x:449,title:'Diff.frequency',tc:517,tl:92,cols:[diffLT,diffST,diffMPP2,diffMPP4],col:diffColor,name:'diff'},
  {x:587,title:'Gene expression in MIG',tc:650,tl:126,cols:[0,1,2,3].map(j=>migRows.map(r=>r[j])),col:zColor,name:'mig'},
  {x:725,title:'Gene expression in MSI2-ADA',tc:805,tl:158,cols:[0,1,2,3].map(j=>adaRows.map(r=>r[j])),col:zColor,name:'ada'}
];
const cw=33.2;
blocks.forEach(bk=>{
  const tt=txt(bk.tc-bk.tl/2,209,bk.title,12,'start',gE,{textLength:bk.tl,lengthAdjust:'spacingAndGlyphs'});
  
  
  heatCols.forEach((c,j)=>{
    const hl=txt(bk.x+cw*(j+0.5),227,c,7.5,'middle',gE);
    
    
    bk.cols[j].forEach((v,i)=>{
      const r=mk('rect',{x:bk.x+cw*j,y:hmTop+rowH*i,width:cw+0.3,height:rowH+0.3,fill:bk.col(v)},gE);
      
      
    });
  });
  const fr=mk('rect',{x:bk.x,y:hmTop,width:cw*4,height:hmH,fill:'none',stroke:'#555','stroke-width':1},gE);
  
  
});
genes.forEach((g,i)=>{
  const t=txt(861,hmTop+rowH*(i+0.5)+2.5,g,6.6,'start',gE,{'font-style':'italic',fill:'#444'});
  
  
});

// ---------------- PANEL G volcano ----------------
const volcanoes = [
  {name:'lt',title:'LT MSI2-DCD vs MIG',ax:36,ab:748,ar:190,atop:660,x0:114,sx:3.2,y0:744,sy:2.03,xt:[-20,-10,0,10,20],yt:[0,10,20,30,40],yf:v=>String(v),red:ltRed,black:[],cloud:ltCloud,tx:108,ty:650,lx:114,ly:772},
  {name:'st',title:'ST MSI2-DCD vs MIG',ax:245,ab:747,ar:396,atop:660,x0:323,sx:2.85,y0:744,sy:2.03,xt:[-20,-10,0,10,20],yt:[0,10,20,30,40],yf:v=>String(v),red:stRed,black:[],cloud:stCloud,tx:313,ty:650,lx:316,ly:772},
  {name:'mpp2',title:'MPP2 MSI2-DCD vs MIG',ax:38,ab:892,ar:184,atop:803,x0:113,sx:3.2,y0:887,sy:8,xt:[-20,-10,0,10,20],yt:[0,2.5,5,7.5,10],yf:v=>v.toFixed(1),red:mpp2Red,black:mpp2Black,cloud:mpp2Cloud,tx:110,ty:796,lx:110,ly:915},
  {name:'mpp4',title:'MPP4 MSI2-DCD vs MIG',ax:245,ab:892,ar:390,atop:803,x0:315,sx:3.1,y0:887,sy:8,xt:[-20,-10,0,10,20],yt:[0,2.5,5,7.5,10],yf:v=>v.toFixed(1),red:mpp4Red,black:mpp4Black,cloud:mpp4Cloud,tx:316,ty:795,lx:316,ly:915}
];
volcanoes.forEach(p=>{
  const g=mk('g',{});
  
  
  const X=v=>p.x0+v*p.sx, Y=v=>p.y0-v*p.sy;
  p.xt.forEach(v=>{ mk('line',{x1:X(v),x2:X(v),y1:p.atop,y2:p.ab,stroke:'#eee','stroke-width':0.6},g); });
  p.yt.forEach(v=>{ mk('line',{x1:p.ax,x2:p.ar,y1:Y(v),y2:Y(v),stroke:'#eee','stroke-width':0.6},g); });
  const t=txt(p.tx,p.ty,p.title,8,'middle',g);
  
  
  const cl=mk('ellipse',{cx:X((p.cloud[0]+p.cloud[1])/2),cy:Y(p.cloud[2]/2),rx:(p.cloud[1]-p.cloud[0])/2*p.sx,ry:p.cloud[2]/2*p.sy,fill:'#000',opacity:0.85},g);
  
  
  p.black.forEach(d=>{
    const c=mk('circle',{cx:X(d[0]),cy:Y(d[1]),r:1.1,fill:'#000'},g);
    
    
  });
  p.red.forEach(d=>{
    const c=mk('circle',{cx:X(d[0]),cy:Y(d[1]),r:1.5,fill:'#d40000'},g);
    
    
  });
  mk('line',{x1:p.ax,x2:p.ax,y1:p.atop,y2:p.ab,stroke:'#333','stroke-width':1},g);
  mk('line',{x1:p.ax,x2:p.ar,y1:p.ab,y2:p.ab,stroke:'#333','stroke-width':1},g);
  p.xt.forEach(v=>{ const l=txt(X(v),p.ab+9,v<0?'−'+(-v):String(v),7.5,'middle',g);   });
  p.yt.forEach(v=>{ const l=txt(p.ax-4,Y(v)+2.5,p.yf(v),7.5,'end',g);   });
  const xl=txt(p.lx,p.ly,'log2 (MSI2-DCD/MIG)',8,'middle',g);
  
  
  const yl=mk('text',{'font-size':7.5,'text-anchor':'middle',fill:'#222',transform:'translate('+(p.ax-25)+','+((p.atop+p.ab)/2)+') rotate(-90)'},g);
  
  
  const a=mk('tspan',{},yl); a.textContent='-log10(';
  const bb=mk('tspan',{'font-style':'italic'},yl); bb.textContent='p';
  const cc=mk('tspan',{},yl); cc.textContent='-value)';
});

// ---------------- PANELS H and K ----------------
function editSitesChart(name,title,sites,cats,x0,yBot,yTop,xRight,centers,bw,tY){
  const g=mk('g',{});
  
  
  const Y=v=>yBot-v/0.25*(yBot-yTop);
  const t=mk('text',{x:(x0+xRight)/2,y:tY,'font-size':9,'text-anchor':'middle',fill:'#222'},g);
  
  
  const a=mk('tspan',{'font-style':'italic'},t); a.textContent=title;
  const b=mk('tspan',{},t); b.textContent=' edit sites';
  sites.forEach((arr,i)=>{
    const start=centers[i]-arr.length*bw/2;
    arr.forEach((v,k)=>{
      const r=mk('rect',{x:start+k*bw,y:Y(v),width:bw,height:yBot-Y(v),fill:'#000'},g);
      
      
    });
  });
  diffTicks.forEach(v=>{
    mk('line',{x1:x0-3,x2:x0,y1:Y(v),y2:Y(v),stroke:'#000'},g);
    const l=txt(x0-4,Y(v)+2,v.toFixed(2),6,'end',g);
    
    
  });
  mk('line',{x1:x0,x2:x0,y1:yTop,y2:yBot,stroke:'#000','stroke-width':1.2},g);
  mk('line',{x1:x0,x2:xRight,y1:yBot,y2:yBot,stroke:'#000','stroke-width':1.2},g);
  cats.forEach((c,i)=>{
    mk('line',{x1:centers[i],x2:centers[i],y1:yBot,y2:yBot+3,stroke:'#000'},g);
    const l=txt(0,0,c,7,'end',g,{transform:'translate('+(centers[i]+2)+','+(yBot+6)+') rotate(-45)'});
    
    
  });
  const yl=txt(0,0,'Diff.freq',7,'middle',g,{transform:'translate('+(x0-33)+','+((yTop+yBot)/2)+') rotate(-90)'});
  
  
}
editSitesChart('panel-h-smad3-chart','Smad3',hSites,hCats,506,747,655,617,[519.5,544,568,592.5],9,650);
editSitesChart('panel-k-brcc3-chart','Brcc3',kSites,kCats,503,918,821,590,[515,538,558,577],18,815);

// ---------------- PANELS J and M ----------------
const jitterPattern = [0,0.6,-0.5,0.9,-0.9,0.3,-0.2,0.75,-0.7,0.45,-0.35,1,-1,0.15,-0.6,0.5];
function dotPlot(cfg){
  const g=mk('g',{});
  
  
  const Y=v=>cfg.yBot-v/cfg.max*(cfg.yBot-cfg.yTop);
  const tt=txt(cfg.tx,cfg.ty,cfg.title,13,'start',g);
  
  
  cfg.groups.forEach((grp,gi)=>{
    const vals=grp.vals;
    vals.forEach((v,i)=>{
      const off=jitterPattern[(i*5+gi*3)%jitterPattern.length]*cfg.hw;
      let m;
      const r=cfg.r;
      if(grp.tri){ const cx=grp.cx+off, cy=Y(v); m=mk('polygon',{points:(cx)+','+(cy-r-0.4)+' '+(cx-r)+','+(cy+r*0.8)+' '+(cx+r)+','+(cy+r*0.8),fill:grp.color},g); }
      else m=mk('circle',{cx:grp.cx+off,cy:Y(v),r:r,fill:grp.color},g);
      
      
    });
    const mean=vals.reduce((a,b)=>a+b,0)/vals.length;
    mk('line',{x1:grp.cx-cfg.hw*0.8,x2:grp.cx+cfg.hw*0.8,y1:Y(mean),y2:Y(mean),stroke:'#555','stroke-width':1},g);
  });
  cfg.ticks.forEach(v=>{
    mk('line',{x1:cfg.x0-3,x2:cfg.x0,y1:Y(v),y2:Y(v),stroke:'#000'},g);
    const l=txt(cfg.x0-5,Y(v)+2,cfg.fmt(v),6.5,'end',g);
    
    
  });
  mk('line',{x1:cfg.x0,x2:cfg.x0,y1:cfg.yTop,y2:cfg.yBot,stroke:'#000','stroke-width':1.1},g);
  mk('line',{x1:cfg.x0,x2:cfg.xR,y1:cfg.yBot,y2:cfg.yBot,stroke:'#000','stroke-width':1.1},g);
  cfg.under.forEach(u=>{
    mk('line',{x1:u[0],x2:u[1],y1:cfg.uy,y2:cfg.uy,stroke:'#000','stroke-width':1},g);
    const l=txt((u[0]+u[1])/2+u[3],cfg.uy+11,u[2],7.5,'middle',g);
    
    
  });
  cfg.brackets.forEach(br=>{
    mk('polyline',{points:br[0]+','+(br[2]+3)+' '+br[0]+','+br[2]+' '+br[1]+','+br[2]+' '+br[1]+','+(br[2]+3),fill:'none',stroke:'#555','stroke-width':0.8},g);
    const s=txt((br[0]+br[1])/2,br[2]-1.5,'****',5.5,'middle',g);
    
    
  });
  const yl=txt(0,0,cfg.ylab,7,'middle',g,{transform:'translate('+cfg.ylx+','+((cfg.yTop+cfg.yBot)/2)+') rotate(-90)'});
  
  
  const legs=[['LT-HSC WT','',false,'#ff2a1a'],['LT-HSC ',' K/O',false,'#0a32ff'],['ST-HSC, MPPs WT','',true,'#ff2a1a'],['ST-HSC, MPPs ',' K/O',true,'#0a32ff']];
  legs.forEach((lg,i)=>{
    const y=cfg.ly+i*13.2;
    let m;
    if(lg[2]) m=mk('polygon',{points:(cfg.lx)+','+(y-3)+' '+(cfg.lx-2.5)+','+(y+1.5)+' '+(cfg.lx+2.5)+','+(y+1.5),fill:lg[3]},g);
    else m=mk('circle',{cx:cfg.lx,cy:y,r:2.3,fill:lg[3]},g);
    
    
    const t=mk('text',{x:cfg.lx+6,y:y+3,'font-size':8,fill:'#222'},g);
    
    
    const a=mk('tspan',{},t); a.textContent=lg[0];
    if(lg[1]){ const b=mk('tspan',{'font-style':'italic'},t); b.textContent='Msi2'; const c=mk('tspan',{},t); c.textContent=lg[1]; }
  });
}
dotPlot({name:'panel-j-smad3-quantitation',title:'Quantitation SMAD3 level',tx:984,ty:634,x0:991,xR:1099,yTop:648,yBot:737,max:150,hw:11,r:2.1,ticks:jTicks,fmt:v=>String(v),
  groups:[{cx:1009,vals:jLtWt,color:'#ff2a1a',key:'lt-wt'},{cx:1027,vals:jLtKo,color:'#0a32ff',key:'lt-ko'},{cx:1057,vals:jStWt,color:'#ff2a1a',key:'st-wt',tri:true},{cx:1082,vals:jStKo,color:'#0a32ff',key:'st-ko',tri:true}],
  under:[[1006,1039,'LT-HSC',0],[1057,1089,'ST-HSC, MPPs',0]],uy:746,brackets:[[1009,1036,651]],ylab:'Fluorescence Intensity',ylx:969,lx:1112,ly:648});
dotPlot({name:'panel-m-brcc3-quantitation',title:'Quantitation BRCC3 level',tx:990,ty:806,x0:989,xR:1123,yTop:829,yBot:950,max:100,hw:14,r:1.9,ticks:mTicks,fmt:v=>v===0?'0':v+',000',
  groups:[{cx:1011,vals:mLtWt,color:'#ff2a1a',key:'lt-wt'},{cx:1043,vals:mLtKo,color:'#0a32ff',key:'lt-ko'},{cx:1072,vals:mStWt,color:'#ff2a1a',key:'st-wt',tri:true},{cx:1103,vals:mStKo,color:'#0a32ff',key:'st-ko',tri:true}],
  under:[[1012,1039,'LT-HSC',-2],[1057,1089,'ST-HSC, MPPs',8]],uy:953,brackets:[[1011,1044,828],[1011,1072,817]],ylab:'Fluorescence intensity',ylx:958,lx:1113,ly:826});

// ---------------- PANEL A cell clusters ----------------
const cellPos=[[77,55],[380,23],[380,57],[380,86],[380,120]];
cellPos.forEach(p=>{
  const g=mk('g',{});
  
  
  [[-4,-3],[3,-4],[5,2],[-2,4],[0,0],[-6,1]].forEach(o=>{ mk('circle',{cx:p[0]+o[0],cy:p[1]+o[1],r:3.6,fill:'url(#gCell)'},g); });
});
</script>
</body></html>
